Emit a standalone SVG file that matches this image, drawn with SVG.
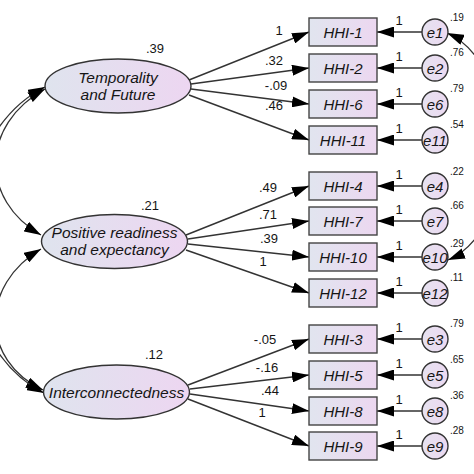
<svg xmlns="http://www.w3.org/2000/svg" width="474" height="474" viewBox="0 0 474 474">
<defs>
<linearGradient id="gE" x1="0" y1="0" x2="1" y2="0"><stop offset="0" stop-color="#dfe4ee"/><stop offset="1" stop-color="#edd6f1"/></linearGradient>
<linearGradient id="gR" x1="0" y1="0" x2="1" y2="0"><stop offset="0" stop-color="#e1e5ef"/><stop offset="1" stop-color="#ecd7f0"/></linearGradient>
<linearGradient id="gC" x1="0" y1="0" x2="1" y2="0"><stop offset="0" stop-color="#e6e2f0"/><stop offset="1" stop-color="#ecd9f1"/></linearGradient>
<marker id="ah" viewBox="0 0 17 11" refX="17" refY="5.5" markerWidth="17" markerHeight="11" markerUnits="userSpaceOnUse" orient="auto-start-reverse"><path d="M0,0 L17,5.5 L0,11 z" fill="#000"/></marker>
</defs>
<style>
.ln{fill:none;stroke:#333;stroke-width:1.4;marker-end:url(#ah)}
.cv{fill:none;stroke:#333;stroke-width:1.3;marker-start:url(#ah);marker-end:url(#ah)}
.el{fill:url(#gE);stroke:#333;stroke-width:1.4}
.rc{fill:url(#gR);stroke:#444;stroke-width:1.4}
.ci{fill:url(#gC);stroke:#333;stroke-width:1.4}
text{font-family:"Liberation Sans",Arial,sans-serif;fill:#151515}
.ft{font-size:15.5px;font-style:italic;text-anchor:middle}
.ot{font-size:15px;font-style:italic;text-anchor:middle}
.et{font-size:15px;font-style:italic;text-anchor:middle}
.lb{font-size:13px;text-anchor:middle}
.vs{font-size:10px}
</style>
<g id="connectors">
<path class="ln" d="M189,80 L309,32"/>
<path class="ln" d="M191,84 L309,68"/>
<path class="ln" d="M191,89 L309,104"/>
<path class="ln" d="M189,95 L309,140"/>
<path class="ln" d="M186,235 L309,186"/>
<path class="ln" d="M188,239 L309,221"/>
<path class="ln" d="M188,244 L309,257"/>
<path class="ln" d="M186,250 L309,293"/>
<path class="ln" d="M188,385 L309,339"/>
<path class="ln" d="M190,389 L309,375"/>
<path class="ln" d="M190,394 L309,411"/>
<path class="ln" d="M188,399 L309,446"/>
<path class="ln" d="M422,32 L377,32"/>
<path class="ln" d="M422,68 L377,68"/>
<path class="ln" d="M422,104 L377,104"/>
<path class="ln" d="M422,140 L377,140"/>
<path class="ln" d="M422,186 L377,186"/>
<path class="ln" d="M422,221 L377,221"/>
<path class="ln" d="M422,257 L377,257"/>
<path class="ln" d="M422,293 L377,293"/>
<path class="ln" d="M422,339 L377,339"/>
<path class="ln" d="M422,375 L377,375"/>
<path class="ln" d="M422,411 L377,411"/>
<path class="ln" d="M422,446 L377,446"/>
<path class="cv" d="M45,89 C-20,125 -20,200 41,235"/>
<path class="cv" d="M41,249 C-20,285 -20,360 43,390"/>
<path class="cv" d="M45,87 C-60,140 -60,340 44,393"/>
<path class="cv" d="M447,33 C520,65 520,230 448,260"/>
</g>
<g id="labels">
<text class="lb" x="279" y="35">1</text>
<text class="lb" x="274" y="65">.32</text>
<text class="lb" x="276" y="90">-.09</text>
<text class="lb" x="274" y="110">.46</text>
<text class="lb" x="268" y="192">.49</text>
<text class="lb" x="268" y="219">.71</text>
<text class="lb" x="269" y="243">.39</text>
<text class="lb" x="263" y="266">1</text>
<text class="lb" x="265" y="344">-.05</text>
<text class="lb" x="267" y="372">-.16</text>
<text class="lb" x="270" y="395">.44</text>
<text class="lb" x="262" y="417">1</text>
<text class="lb" x="399" y="25">1</text>
<text class="lb" x="399" y="61">1</text>
<text class="lb" x="399" y="97">1</text>
<text class="lb" x="399" y="133">1</text>
<text class="lb" x="399" y="179">1</text>
<text class="lb" x="399" y="214">1</text>
<text class="lb" x="399" y="250">1</text>
<text class="lb" x="399" y="286">1</text>
<text class="lb" x="399" y="332">1</text>
<text class="lb" x="399" y="368">1</text>
<text class="lb" x="399" y="404">1</text>
<text class="lb" x="399" y="439">1</text>
<text class="lb" x="155" y="53">.39</text>
<text class="lb" x="150" y="210">.21</text>
<text class="lb" x="154" y="359">.12</text>
</g>
<g id="f1"><ellipse class="el" cx="118" cy="86" rx="73" ry="27"/><text class="ft" x="118" y="82.5">Temporality</text><text class="ft" x="118" y="99.5">and Future</text></g>
<g id="f2"><ellipse class="el" cx="114.5" cy="241.5" rx="73" ry="27"/><text class="ft" x="114.5" y="238">Positive readiness</text><text class="ft" x="114.5" y="255">and expectancy</text></g>
<g id="f3"><ellipse class="el" cx="116.5" cy="392" rx="73" ry="27"/><text class="ft" x="116.5" y="397.5">Interconnectedness</text></g>
<g id="hhi1"><rect class="rc" x="309" y="18" width="68" height="28"/><text class="ot" x="343" y="37.5">HHI-1</text></g>
<g id="hhi2"><rect class="rc" x="309" y="54" width="68" height="28"/><text class="ot" x="343" y="73.5">HHI-2</text></g>
<g id="hhi6"><rect class="rc" x="309" y="90" width="68" height="28"/><text class="ot" x="343" y="109.5">HHI-6</text></g>
<g id="hhi11"><rect class="rc" x="309" y="126" width="68" height="28"/><text class="ot" x="343" y="145.5">HHI-11</text></g>
<g id="hhi4"><rect class="rc" x="309" y="172" width="68" height="28"/><text class="ot" x="343" y="191.5">HHI-4</text></g>
<g id="hhi7"><rect class="rc" x="309" y="207" width="68" height="28"/><text class="ot" x="343" y="226.5">HHI-7</text></g>
<g id="hhi10"><rect class="rc" x="309" y="243" width="68" height="28"/><text class="ot" x="343" y="262.5">HHI-10</text></g>
<g id="hhi12"><rect class="rc" x="309" y="279" width="68" height="28"/><text class="ot" x="343" y="298.5">HHI-12</text></g>
<g id="hhi3"><rect class="rc" x="309" y="325" width="68" height="28"/><text class="ot" x="343" y="344.5">HHI-3</text></g>
<g id="hhi5"><rect class="rc" x="309" y="361" width="68" height="28"/><text class="ot" x="343" y="380.5">HHI-5</text></g>
<g id="hhi8"><rect class="rc" x="309" y="397" width="68" height="28"/><text class="ot" x="343" y="416.5">HHI-8</text></g>
<g id="hhi9"><rect class="rc" x="309" y="432" width="68" height="28"/><text class="ot" x="343" y="451.5">HHI-9</text></g>
<g id="e1"><circle class="ci" cx="435" cy="32" r="13"/><text class="et" x="435" y="37.5">e1</text><text class="vs" x="450" y="21">.19</text></g>
<g id="e2"><circle class="ci" cx="435" cy="68" r="13"/><text class="et" x="435" y="73.5">e2</text><text class="vs" x="450" y="56">.76</text></g>
<g id="e6"><circle class="ci" cx="435" cy="104" r="13"/><text class="et" x="435" y="109.5">e6</text><text class="vs" x="450" y="92">.79</text></g>
<g id="e11"><circle class="ci" cx="435" cy="140" r="13"/><text class="et" x="435" y="145.5">e11</text><text class="vs" x="450" y="128">.54</text></g>
<g id="e4"><circle class="ci" cx="435" cy="186" r="13"/><text class="et" x="435" y="191.5">e4</text><text class="vs" x="450" y="175">.22</text></g>
<g id="e7"><circle class="ci" cx="435" cy="221" r="13"/><text class="et" x="435" y="226.5">e7</text><text class="vs" x="450" y="209">.66</text></g>
<g id="e10"><circle class="ci" cx="435" cy="257" r="13"/><text class="et" x="435" y="262.5">e10</text><text class="vs" x="450" y="247">.29</text></g>
<g id="e12"><circle class="ci" cx="435" cy="293" r="13"/><text class="et" x="435" y="298.5">e12</text><text class="vs" x="450" y="281">.11</text></g>
<g id="e3"><circle class="ci" cx="435" cy="339" r="13"/><text class="et" x="435" y="344.5">e3</text><text class="vs" x="450" y="327">.79</text></g>
<g id="e5"><circle class="ci" cx="435" cy="375" r="13"/><text class="et" x="435" y="380.5">e5</text><text class="vs" x="450" y="363">.65</text></g>
<g id="e8"><circle class="ci" cx="435" cy="411" r="13"/><text class="et" x="435" y="416.5">e8</text><text class="vs" x="450" y="399">.36</text></g>
<g id="e9"><circle class="ci" cx="435" cy="446" r="13"/><text class="et" x="435" y="451.5">e9</text><text class="vs" x="450" y="434">.28</text></g>
</svg>
